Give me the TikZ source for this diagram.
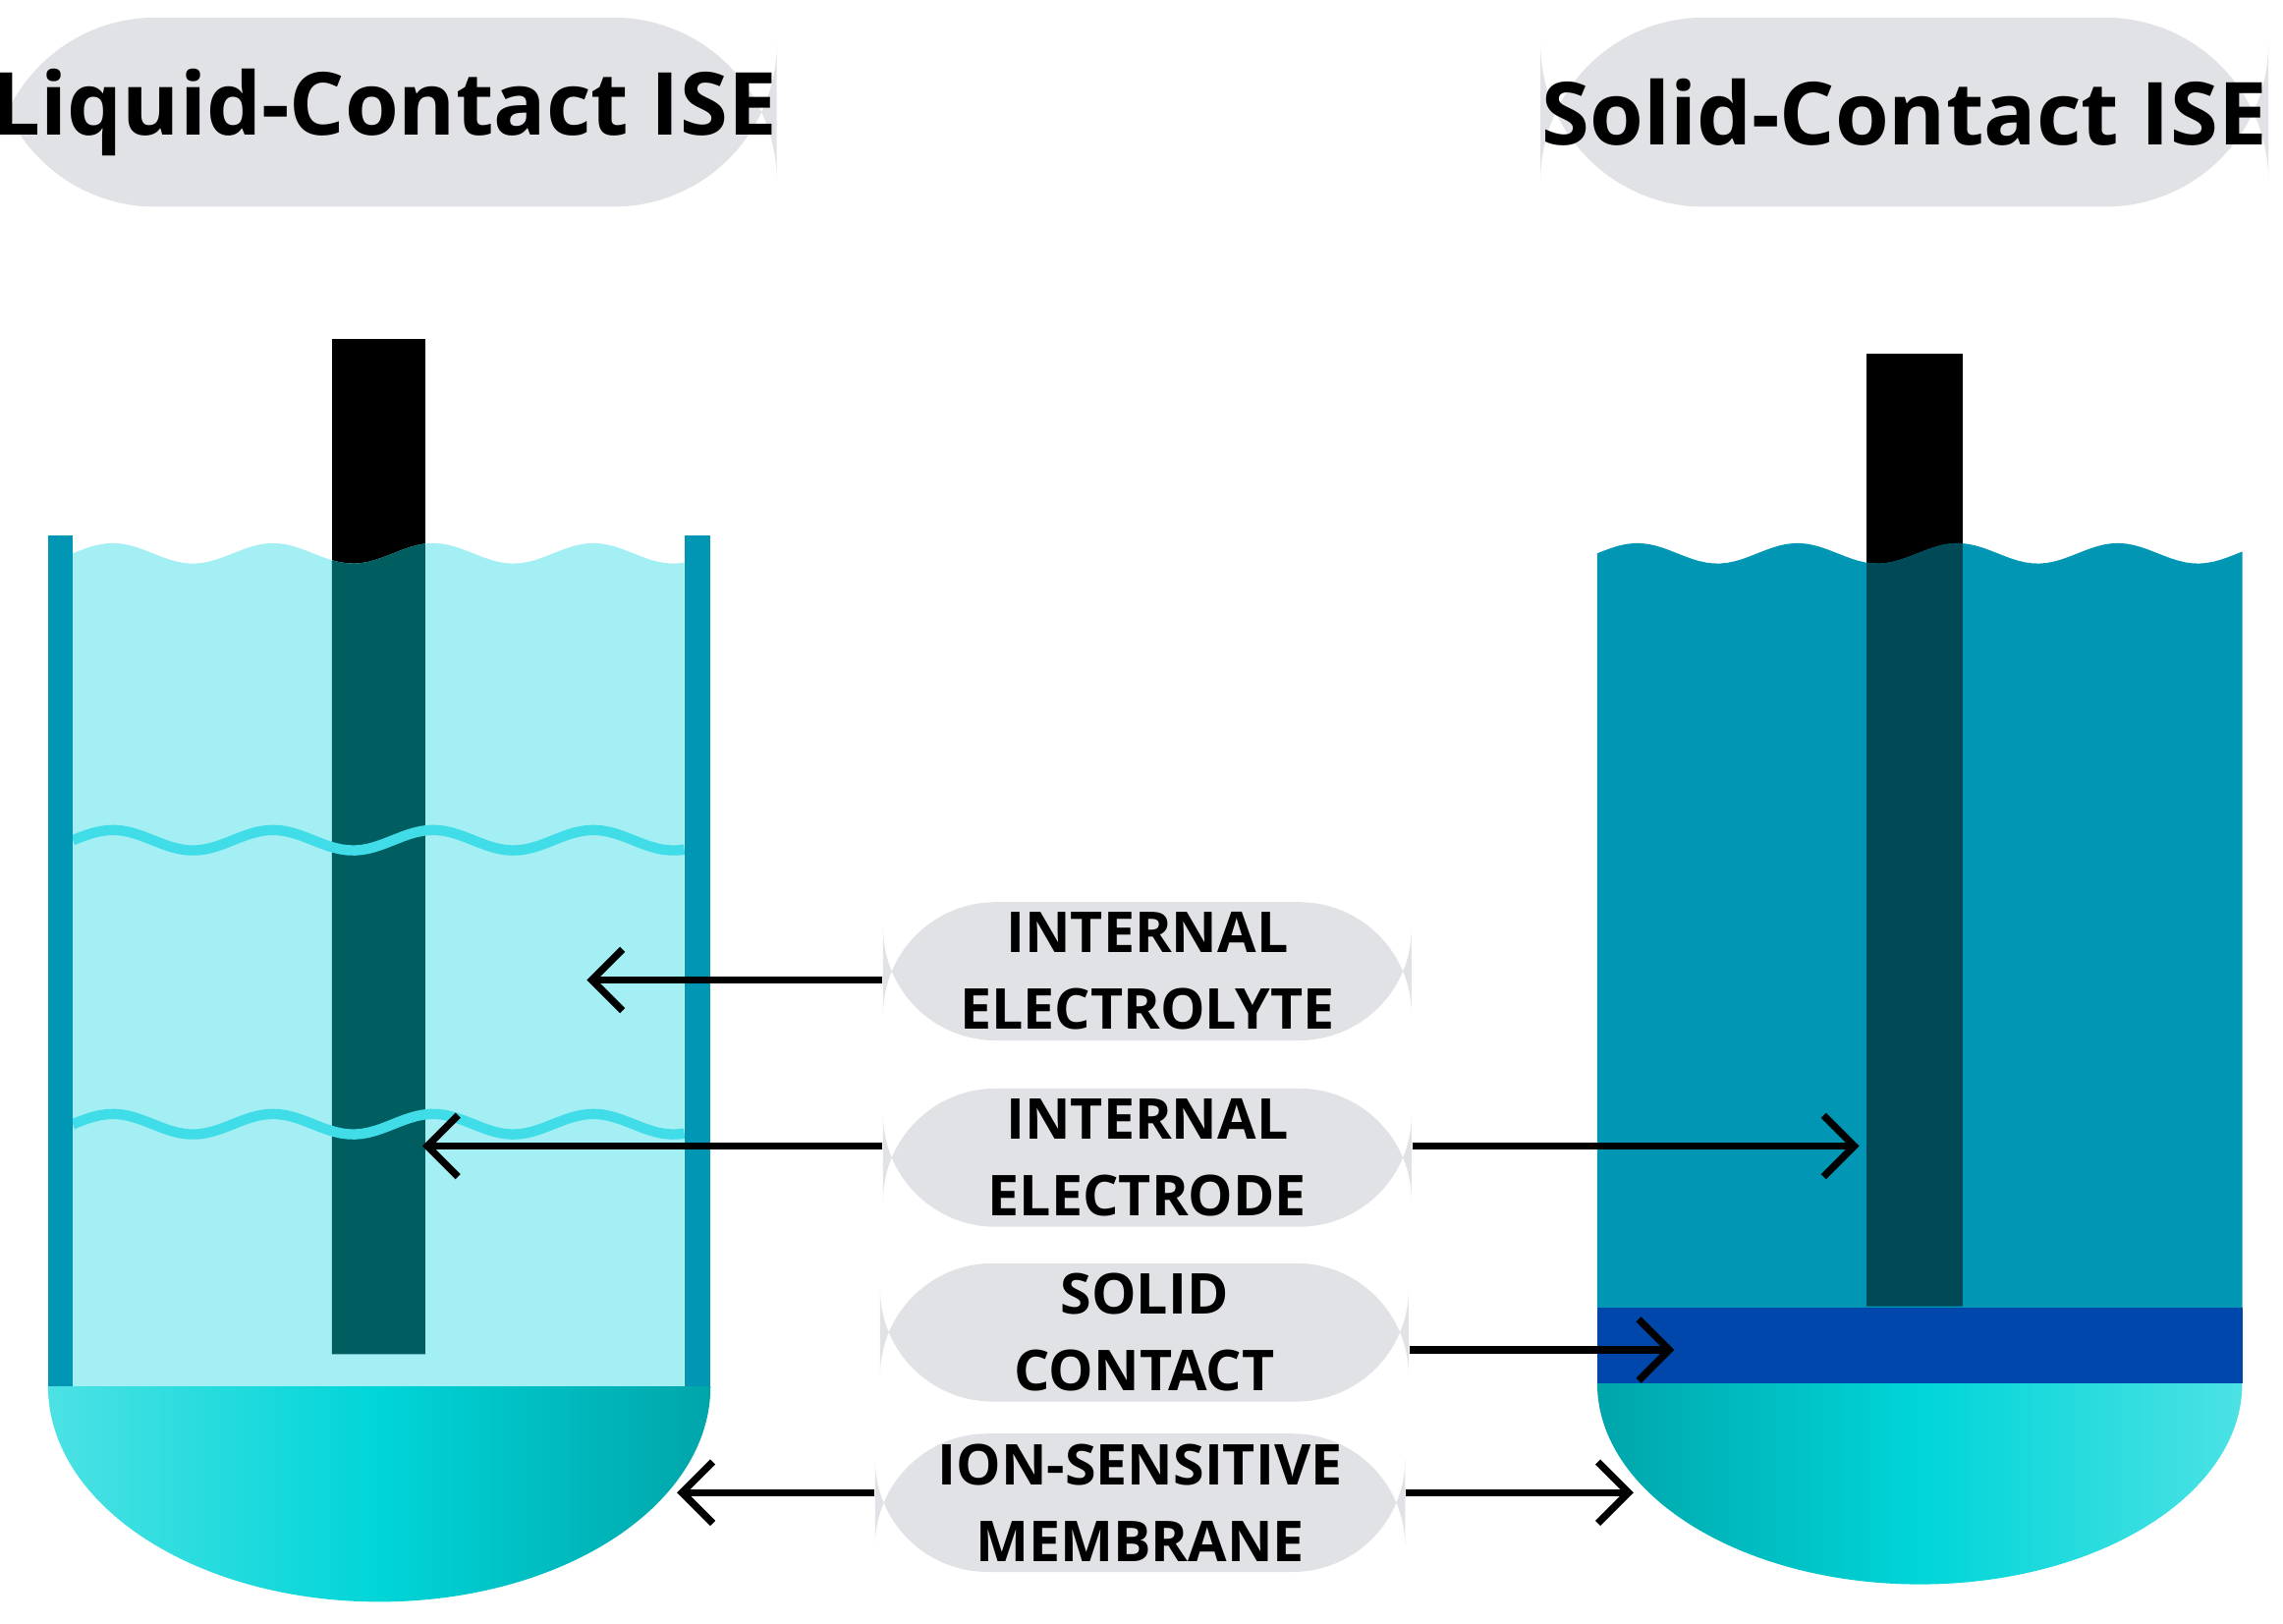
\documentclass[tikz,border=0pt]{standalone}
\usepackage{fontspec}
\setmainfont{Open Sans}
\usetikzlibrary{arrows.meta}
\definecolor{pill}{HTML}{E0E2E5}
\definecolor{lightliq}{HTML}{A3EFF3}
\definecolor{wall}{HTML}{0096B4}
\definecolor{darkliq}{HTML}{0096B4}
\definecolor{wave}{HTML}{40DDE8}
\definecolor{rodin}{HTML}{005E60}
\definecolor{rodinb}{HTML}{004A57}
\definecolor{contact}{HTML}{0047AB}
\definecolor{memA}{HTML}{00D5D8}
\definecolor{memB}{HTML}{00A5AA}
\begin{document}
\begin{tikzpicture}[x=0.1mm,y=-0.1mm]
        \tikzset{>={Straight Barb[length=6pt,width=12pt,line width=1.4pt]}}
        \tikzstyle{label}=[fill=pill,rounded corners=22pt,align=center,font=\bfseries\fontsize{11}{15}\selectfont,inner sep=0pt]
        \tikzstyle{title}=[fill=pill,rounded corners=32pt,font=\bfseries\fontsize{17}{20}\selectfont,inner sep=0pt]
        \tikzstyle{link}=[->,line width=1.4pt]

        \useasboundingbox (0,0) rectangle (1568,1115);

        % titles
        \node[title,minimum width=5cm,minimum height=1.3cm] (tl) at (264,77) {Liquid-Contact ISE};
        \node[title,minimum width=5cm,minimum height=1.3cm] (tr) at (1308,77) {Solid-Contact ISE};

        % liquid-contact electrode
        \fill[black] (228,233) rectangle (292,400);
        \fill[lightliq] (50,952) -- plot[domain=50:470,samples=90] (\x,{380-7*sin((\x-50)*3.2727)}) -- (470,952) -- cycle;
        \fill[rodin] (228,930) -- plot[domain=228:292,samples=20] (\x,{380-7*sin((\x-50)*3.2727)}) -- (292,930) -- cycle;
        \foreach \yy in {577,772}
            \draw[wave,line width=2pt] plot[domain=50:470,samples=90] (\x,{\yy-7*sin((\x-50)*3.2727)});
        \fill[wall] (33,368) rectangle (50,952);
        \fill[wall] (470,368) rectangle (488,952);
        \shade[left color=memA!70!white,right color=memB,middle color=memA] (488,952) arc[start angle=0,end angle=180,x radius=227.5,y radius=148] -- cycle;

        % solid-contact electrode
        \fill[black] (1282,243) rectangle (1348,400);
        \fill[darkliq] (1097,898) -- plot[domain=1097:1540,samples=90] (\x,{380-7*sin((\x-1097)*3.2727)}) -- (1540,898) -- cycle;
        \fill[rodinb] (1282,897) -- plot[domain=1282:1348,samples=20] (\x,{380-7*sin((\x-1097)*3.2727)}) -- (1348,897) -- cycle;
        \fill[contact] (1097,898) rectangle (1540,950);
        \shade[left color=memB,right color=memA!70!white,middle color=memA] (1540,950) arc[start angle=0,end angle=180,x radius=221.5,y radius=138] -- cycle;

        % labels
        \node[label,minimum width=3.63cm,minimum height=0.95cm] (el) at (788,667) {INTERNAL\\ELECTROLYTE};
        \node[label,minimum width=3.63cm,minimum height=0.95cm] (ed) at (788,795) {INTERNAL\\ELECTRODE};
        \node[label,minimum width=3.63cm,minimum height=0.95cm] (sc) at (786,915) {SOLID\\CONTACT};
        \node[label,minimum width=3.64cm,minimum height=0.95cm] (ism) at (783,1032) {ION-SENSITIVE\\MEMBRANE};

        \coordinate (a1) at (403,673);
        \coordinate (a2) at (290,787);
        \coordinate (a3) at (1277,787);
        \coordinate (a4) at (1150,927);
        \coordinate (a5) at (465,1025);
        \coordinate (a6) at (1122,1025);

        \draw[link] (el.west |- a1) -- (a1);
        \draw[link] (ed.west |- a2) -- (a2);
        \draw[link] (ed.east |- a3) -- (a3);
        \draw[link] (sc.east |- a4) -- (a4);
        \draw[link] (ism.west |- a5) -- (a5);
        \draw[link] (ism.east |- a6) -- (a6);
\end{tikzpicture}
\end{document}
